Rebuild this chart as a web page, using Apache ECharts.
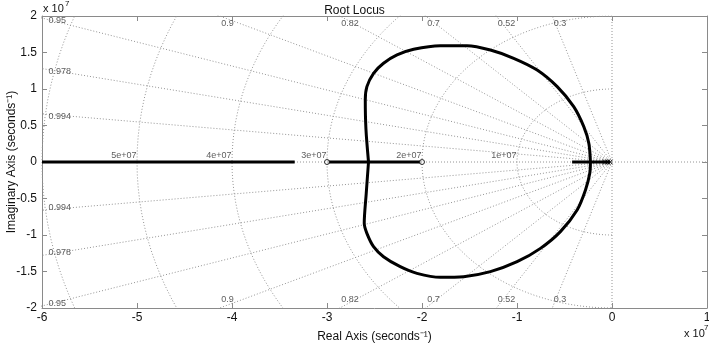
<!DOCTYPE html>
<html>
<head>
<meta charset="utf-8">
<script src="https://cdn.jsdelivr.net/npm/echarts@6/dist/echarts.min.js"></script>
<style>
  html, body { margin: 0; padding: 0; background: #fff; }
  #chart { width: 709px; height: 343px; }
</style>
</head>
<body>
<div id="chart"></div>
<script>
// root locus, units of 1e7 s^-1
var upperRe = [-2.563, -2.590, -2.597, -2.580, -2.510, -2.405, -2.263, -2.088, -1.807, -1.526, -1.280, -1.035, -0.788, -0.577, -0.403, -0.297, -0.244, -0.227]
var upperIm = [0, 0.450, 0.849, 1.032, 1.215, 1.352, 1.466, 1.544, 1.593, 1.593, 1.534, 1.421, 1.260, 1.032, 0.758, 0.484, 0.256, 0]
var lowerRe = [-2.563, -2.587, -2.608, -2.580, -2.510, -2.405, -2.229, -2.053, -1.807, -1.562, -1.280, -0.999, -0.753, -0.543, -0.367, -0.279, -0.234, -0.227]
var lowerIm = [0, -0.429, -0.840, -0.977, -1.160, -1.297, -1.434, -1.525, -1.580, -1.571, -1.502, -1.366, -1.183, -0.954, -0.658, -0.384, -0.155, 0]
var realSegments = [[-6, -3.34], [-3, -2], [-0.42, -0.02]]
var zeros = [-3, -2]
var poles = [-0.07, -0.045, -0.02]

// sgrid
var dampRatios = [0.994, 0.978, 0.95, 0.9, 0.82, 0.7, 0.52, 0.3]
var dampText = ['0.994', '0.978', '0.95', '0.9', '0.82', '0.7', '0.52', '0.3']
var natFreqs = [1, 2, 3, 4, 5, 6]
var natFreqText = ['1e+07', '2e+07', '3e+07', '4e+07', '5e+07', '']

var xMin = -6, xMax = 1, yMin = -2, yMax = 2
var gridColor = '#949494'
var boxColor = '#8a8a8a'
var font = 'Liberation Sans, Arial, sans-serif'

function pairs(xs, ys) {
  return xs.map(function (x, i) { return [x, ys[i]] })
}

function arc(r) {
  var pts = []
  for (var a = 90; a <= 270; a += 2) {
    var rad = a * Math.PI / 180
    pts.push([r * Math.cos(rad), r * Math.sin(rad)])
  }
  return pts
}

function gridLine(data) {
  return {
    type: 'line', data: data, symbol: 'none', silent: true, z: 1,
    lineStyle: { color: gridColor, width: 1, type: [1, 2] }
  }
}

var series = []

// damping rays
dampRatios.forEach(function (z) {
  var s = Math.sqrt(1 - z * z)
  series.push(gridLine([[0, 0], [-10 * z, 10 * s]]))
  series.push(gridLine([[0, 0], [-10 * z, -10 * s]]))
})
// natural frequency arcs
natFreqs.forEach(function (r) { series.push(gridLine(arc(r))) })
series.push(gridLine([[xMin, 0], [xMax, 0]]))
series.push(gridLine([[0, yMin], [0, yMax]]))

// damping labels
var dampLabels = []
dampRatios.forEach(function (z, i) {
  var t = Math.sqrt(1 - z * z) / z
  var lbl = { show: true, formatter: dampText[i], fontSize: 9, color: '#333', fontFamily: font }
  if (-xMin * t <= yMax) {
    var y = -xMin * t
    dampLabels.push({ value: [xMin, y], label: Object.assign({}, lbl, { position: [7, 3], verticalAlign: 'middle' }) })
    dampLabels.push({ value: [xMin, -y], label: Object.assign({}, lbl, { position: [7, -2], verticalAlign: 'middle' }) })
  } else {
    var x = -yMax / t
    dampLabels.push({ value: [x, yMax], label: Object.assign({}, lbl, { position: [2, 4], verticalAlign: 'top' }) })
    dampLabels.push({ value: [x, yMin], label: Object.assign({}, lbl, { position: [2, -3], verticalAlign: 'bottom' }) })
  }
})
natFreqs.forEach(function (r, i) {
  if (!natFreqText[i]) return
  dampLabels.push({
    value: [-r, 0],
    label: { show: true, formatter: natFreqText[i], fontSize: 9, color: '#333', fontFamily: font,
      position: [0, -1], align: 'right', verticalAlign: 'bottom' }
  })
})
series.push({
  type: 'scatter', data: dampLabels, symbolSize: 1, silent: true, z: 2,
  itemStyle: { color: 'transparent' }
})

// locus
var locusStyle = { color: '#000', width: 3 }
series.push({ type: 'line', data: pairs(upperRe, upperIm), symbol: 'none', smooth: 0.3, lineStyle: locusStyle, z: 5 })
series.push({ type: 'line', data: pairs(lowerRe, lowerIm), symbol: 'none', smooth: 0.3, lineStyle: locusStyle, z: 5 })
realSegments.forEach(function (seg) {
  series.push({ type: 'line', data: [[seg[0], 0], [seg[1], 0]], symbol: 'none', lineStyle: locusStyle, z: 5 })
})
series.push({
  type: 'scatter', data: zeros.map(function (x) { return [x, 0] }), symbol: 'circle', symbolSize: 5, z: 6,
  itemStyle: { color: '#fff', borderColor: '#000', borderWidth: 1 }
})
series.push({
  type: 'scatter', data: poles.map(function (x) { return [x, 0] }), symbol: 'path://M0,0L10,10M10,0L0,10', symbolSize: 5, z: 6,
  itemStyle: { color: 'none', borderColor: '#000', borderWidth: 1 }
})

var axisLine = { show: true, onZero: false, lineStyle: { color: boxColor, width: 1 } }
var axisTick = { show: true, inside: true, length: 5, lineStyle: { color: boxColor } }

var chart = echarts.init(document.getElementById('chart'))
chart.setOption({
  animation: false,
  backgroundColor: '#fff',
  title: {
    text: 'Root Locus', left: 'center', top: 0,
    textStyle: { fontSize: 12, fontWeight: 'normal', color: '#111', fontFamily: font }
  },
  grid: { left: 42, right: 2, top: 16, bottom: 35, containLabel: false, outerBoundsMode: 'none' },
  xAxis: [{
    type: 'value', min: xMin, max: xMax, interval: 1,
    axisLine: axisLine, axisTick: axisTick, splitLine: { show: false },
    axisLabel: { fontSize: 12, color: '#111', margin: 4, fontFamily: font, showMinLabel: true, showMaxLabel: true },
    name: 'Real Axis (seconds⁻¹)', nameLocation: 'middle', nameGap: 23, nameMoveOverlap: false,
    nameTextStyle: { fontSize: 12, color: '#111', fontFamily: font }
  }, {
    type: 'value', position: 'top', min: xMin, max: xMax, interval: 1,
    axisLine: axisLine, axisTick: axisTick, splitLine: { show: false }, axisLabel: { show: false }
  }],
  yAxis: [{
    type: 'value', min: yMin, max: yMax, interval: 0.5,
    axisLine: axisLine, axisTick: axisTick, splitLine: { show: false },
    axisLabel: { fontSize: 12, color: '#111', margin: 5, fontFamily: font, showMinLabel: true, showMaxLabel: true },
    name: 'Imaginary Axis (seconds⁻¹)', nameLocation: 'middle', nameGap: 24, nameRotate: 90, nameMoveOverlap: false,
    nameTextStyle: { fontSize: 12, color: '#111', fontFamily: font }
  }, {
    type: 'value', position: 'right', min: yMin, max: yMax, interval: 0.5,
    axisLine: axisLine, axisTick: axisTick, splitLine: { show: false }, axisLabel: { show: false }
  }],
  graphic: [
    { type: 'text', left: 43, top: 3, style: { text: 'x 10', fontSize: 11, fill: '#111', fontFamily: font } },
    { type: 'text', left: 65, top: 0, style: { text: '7', fontSize: 8, fill: '#111', fontFamily: font } },
    { type: 'text', left: 684, top: 328, style: { text: 'x 10', fontSize: 11, fill: '#111', fontFamily: font } },
    { type: 'text', left: 704, top: 324, style: { text: '7', fontSize: 8, fill: '#111', fontFamily: font } }
  ],
  series: series
})
</script>
</body>
</html>
